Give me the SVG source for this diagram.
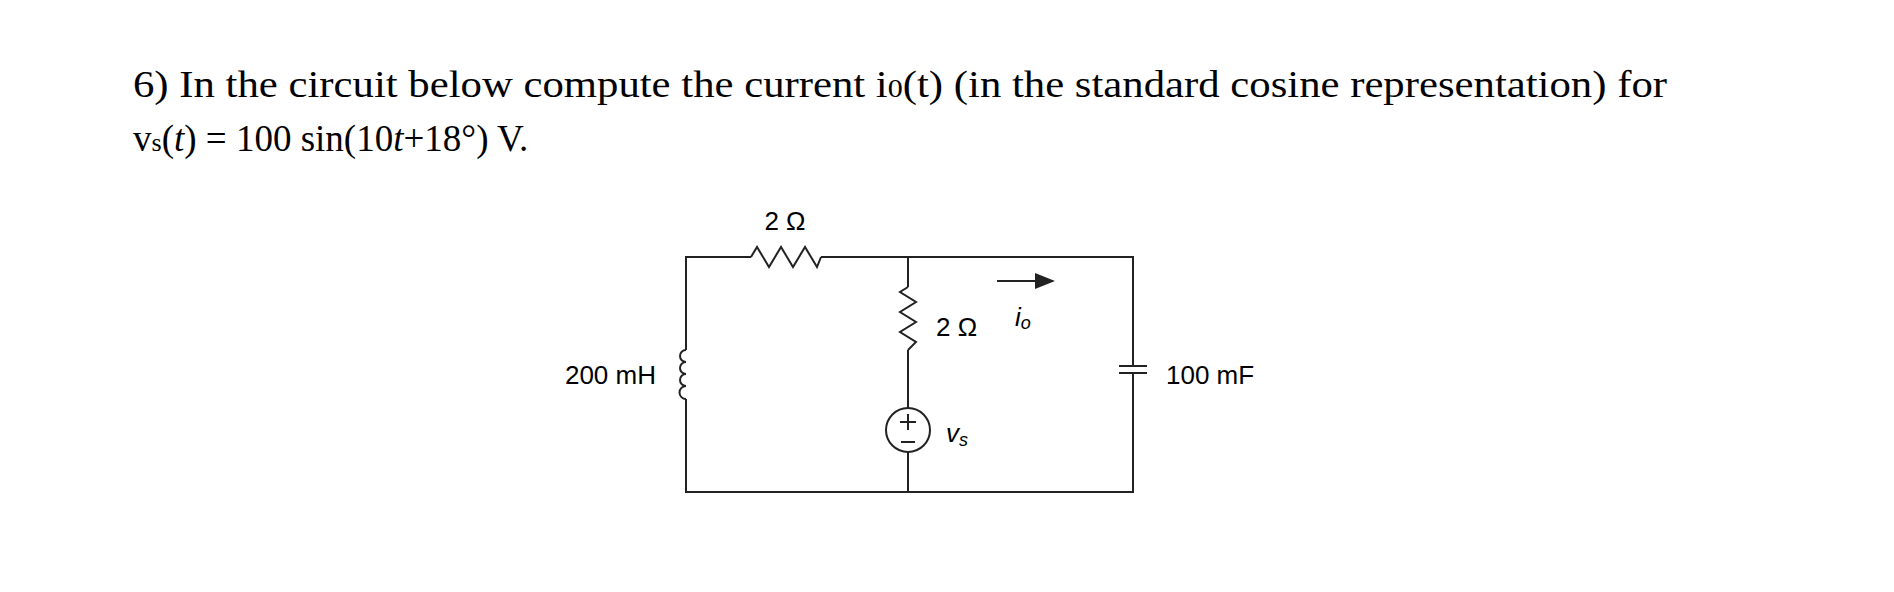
<svg xmlns="http://www.w3.org/2000/svg" width="1894" height="592" viewBox="0 0 1894 592">
<style>
.t{font-family:"Liberation Serif",serif;font-size:37px;fill:#000}
.l{font-family:"Liberation Sans",sans-serif;font-size:26px;fill:#000}
.w{fill:none;stroke:#222;stroke-width:2}
</style>
<defs><marker id="a" markerWidth="10" markerHeight="8" refX="9" refY="4" orient="auto"><path d="M0,0 L10,4 L0,8 Z" fill="#222"/></marker></defs>
<rect width="1894" height="592" fill="#fff"/>
<text class="t" x="133" y="97" textLength="1534" lengthAdjust="spacingAndGlyphs">6) In the circuit below compute the current i<tspan font-size="26">0</tspan>(t) (in the standard cosine representation) for</text>
<text class="t" x="133" y="151">v<tspan font-size="26">s</tspan>(<tspan font-style="italic">t</tspan>) = 100 sin(10<tspan font-style="italic">t</tspan>+18°) V.</text>
<g id="connectors">
<path class="w" d="M686,350 V257 H751 M821,257 H1133 V366 M1133,373 V492 H686 V399"/>
<path class="w" d="M908,257 V287 M908,350 V408 M908,452 V492"/>
<path class="w" d="M997,281 H1053" marker-end="url(#a)"/>
</g>
<g id="R1"><path class="w" d="M751,257 l6,-10 l12,20 l12,-20 l12,20 l12,-20 l12,20 l4,-10"/><text class="l" x="785" y="230" text-anchor="middle">2 Ω</text></g>
<g id="R2"><path class="w" d="M908,287 l-8,5 l16,10 l-16,10 l16,10 l-16,10 l16,10 l-8,8"/><text class="l" x="936" y="336">2 Ω</text></g>
<g id="Vs"><circle class="w" cx="908" cy="430" r="22"/><path class="w" d="M900,422 h16 M908,414 v16 M901,442 h14"/><text class="l" x="946" y="442" font-style="italic" font-family="Liberation Serif">v<tspan font-size="18" dy="4">s</tspan></text></g>
<g id="io"><text class="l" x="1015" y="326" font-style="italic">i<tspan font-size="18" dy="3">o</tspan></text></g>
<g id="L"><path class="w" d="M686,350 a6,6 0 0 0 0,12 a6,6 0 0 0 0,12 a6,6 0 0 0 0,12 a6,6 0 0 0 0,13"/><text class="l" x="656" y="384" text-anchor="end">200 mH</text></g>
<g id="C"><path class="w" d="M1119,366 h28 M1119,373 h28"/><text class="l" x="1166" y="384">100 mF</text></g>
</svg>
